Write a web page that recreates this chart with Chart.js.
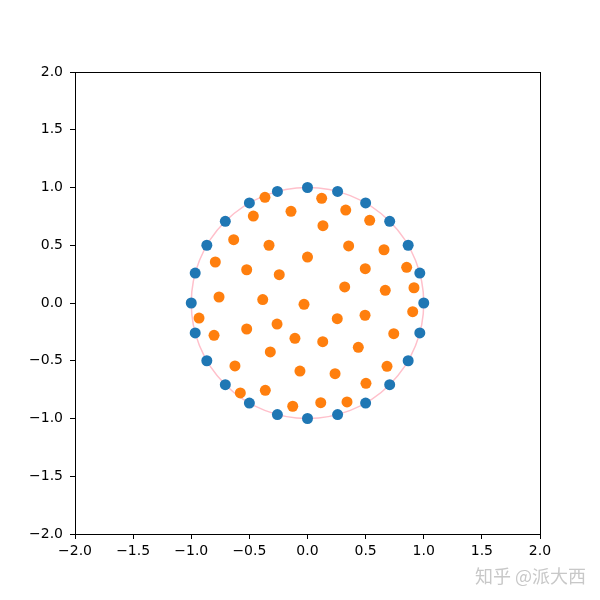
<!DOCTYPE html>
<html>
<head>
<meta charset="utf-8">
<script src="https://cdn.jsdelivr.net/npm/chart.js@4"></script>
<style>
  html, body { margin: 0; padding: 0; background: #fff; }
  #wrap { width: 600px; height: 600px; }
</style>
</head>
<body>
<div id="wrap"><canvas id="chart" width="600" height="600"></canvas></div>
<script>
// ----- Data -----
// points on the unit circle (every 15 degrees)
const edgeX = [1, 0.966, 0.866, 0.707, 0.5, 0.259, 0, -0.259, -0.5, -0.707, -0.866, -0.966,
               -1, -0.966, -0.866, -0.707, -0.5, -0.259, 0, 0.259, 0.5, 0.707, 0.866, 0.966];
const edgeY = [0, 0.259, 0.5, 0.707, 0.866, 0.966, 1, 0.966, 0.866, 0.707, 0.5, 0.259,
               0, -0.259, -0.5, -0.707, -0.866, -0.966, -1, -0.966, -0.866, -0.707, -0.5, -0.259];

// points inside the circle
const innerX = [-0.366, -0.466, -0.142, -0.635, -0.331, 0.0, -0.793, -0.523, -0.243, -0.761,
                -0.385, -0.030, 0.122, 0.329, 0.535, 0.133, 0.354, 0.658, 0.497, 0.853,
                0.320, 0.669, 0.916, -0.933, -0.804, -0.523, -0.262, -0.108, -0.320, -0.624,
                -0.065, -0.578, -0.363, -0.127, 0.256, 0.495, 0.905, 0.131, 0.437, 0.742,
                0.237, 0.684, 0.503, 0.114, 0.340];
const innerY = [0.915, 0.753, 0.794, 0.548, 0.500, 0.398, 0.355, 0.288, 0.245, 0.052,
                0.030, -0.011, 0.906, 0.805, 0.716, 0.669, 0.494, 0.461, 0.297, 0.309,
                0.139, 0.110, 0.132, -0.130, -0.280, -0.225, -0.182, -0.306, -0.424, -0.545,
                -0.589, -0.779, -0.756, -0.894, -0.136, -0.106, -0.075, -0.335, -0.384, -0.266,
                -0.612, -0.548, -0.695, -0.863, -0.857];

const circleRadius = 1;
const axisMin = -2, axisMax = 2, axisStep = 0.5;

const toPoints = (xs, ys) => xs.map((x, i) => ({ x, y: ys[i] }));

function tickLabel(v) {
  return (v < 0 ? "\u2212" : "") + Math.abs(v).toFixed(1);
}

// ----- Plugins -----
const circlePlugin = {
  id: "circle",
  beforeDatasetsDraw(chart) {
    const { ctx, scales: { x, y } } = chart;
    const cx = x.getPixelForValue(0), cy = y.getPixelForValue(0);
    const rx = x.getPixelForValue(circleRadius) - cx;
    const ry = cy - y.getPixelForValue(circleRadius);
    ctx.save();
    ctx.strokeStyle = "pink";
    ctx.lineWidth = 1.5;
    ctx.beginPath();
    ctx.ellipse(cx, cy, rx, ry, 0, 0, Math.PI * 2);
    ctx.stroke();
    ctx.restore();
  }
};

const framePlugin = {
  id: "frame",
  afterDraw(chart) {
    const { ctx, chartArea: a } = chart;
    ctx.save();
    ctx.strokeStyle = "#000";
    ctx.lineWidth = 1;
    ctx.strokeRect(Math.round(a.left) + 0.5, Math.round(a.top) + 0.5,
                   Math.round(a.right - a.left), Math.round(a.bottom - a.top));
    // watermark
    ctx.fillStyle = "#c8c8c8";
    ctx.font = '18px "Noto Sans CJK SC"';
    ctx.textAlign = "right";
    ctx.textBaseline = "middle";
    ctx.fillText("知乎 @派大西", 586, 576);
    ctx.restore();
  }
};

// ----- Chart -----
const axisCommon = {
  type: "linear",
  min: axisMin,
  max: axisMax,
  grid: { drawOnChartArea: false, drawTicks: true, tickLength: 5, color: "#000" },
  border: { display: true, color: "#000", width: 1 },
};

new Chart(document.getElementById("chart"), {
  type: "scatter",
  data: {
    datasets: [
      {
        data: toPoints(edgeX, edgeY),
        backgroundColor: "#1f77b4",
        borderWidth: 0,
        pointRadius: 5.5
      },
      {
        data: toPoints(innerX, innerY),
        backgroundColor: "#ff7f0e",
        borderWidth: 0,
        pointRadius: 5.5
      }
    ]
  },
  options: {
    responsive: false,
    animation: false,
    layout: { padding: { top: 72, right: 60, left: 0, bottom: 0 } },
    plugins: { legend: { display: false }, tooltip: { enabled: false } },
    scales: {
      x: {
        ...axisCommon,
        position: "bottom",
        ticks: {
          stepSize: axisStep, color: "#000", padding: 4, maxRotation: 0,
          font: { family: "DejaVu Sans", size: 14 }, callback: tickLabel
        },
        afterFit(scale) { scale.height = 66; }
      },
      y: {
        ...axisCommon,
        position: "left",
        ticks: {
          stepSize: axisStep, color: "#000", padding: 7,
          font: { family: "DejaVu Sans", size: 14 }, callback: tickLabel
        },
        afterFit(scale) { scale.width = 75; }
      }
    }
  },
  plugins: [circlePlugin, framePlugin]
});
</script>
</body>
</html>
